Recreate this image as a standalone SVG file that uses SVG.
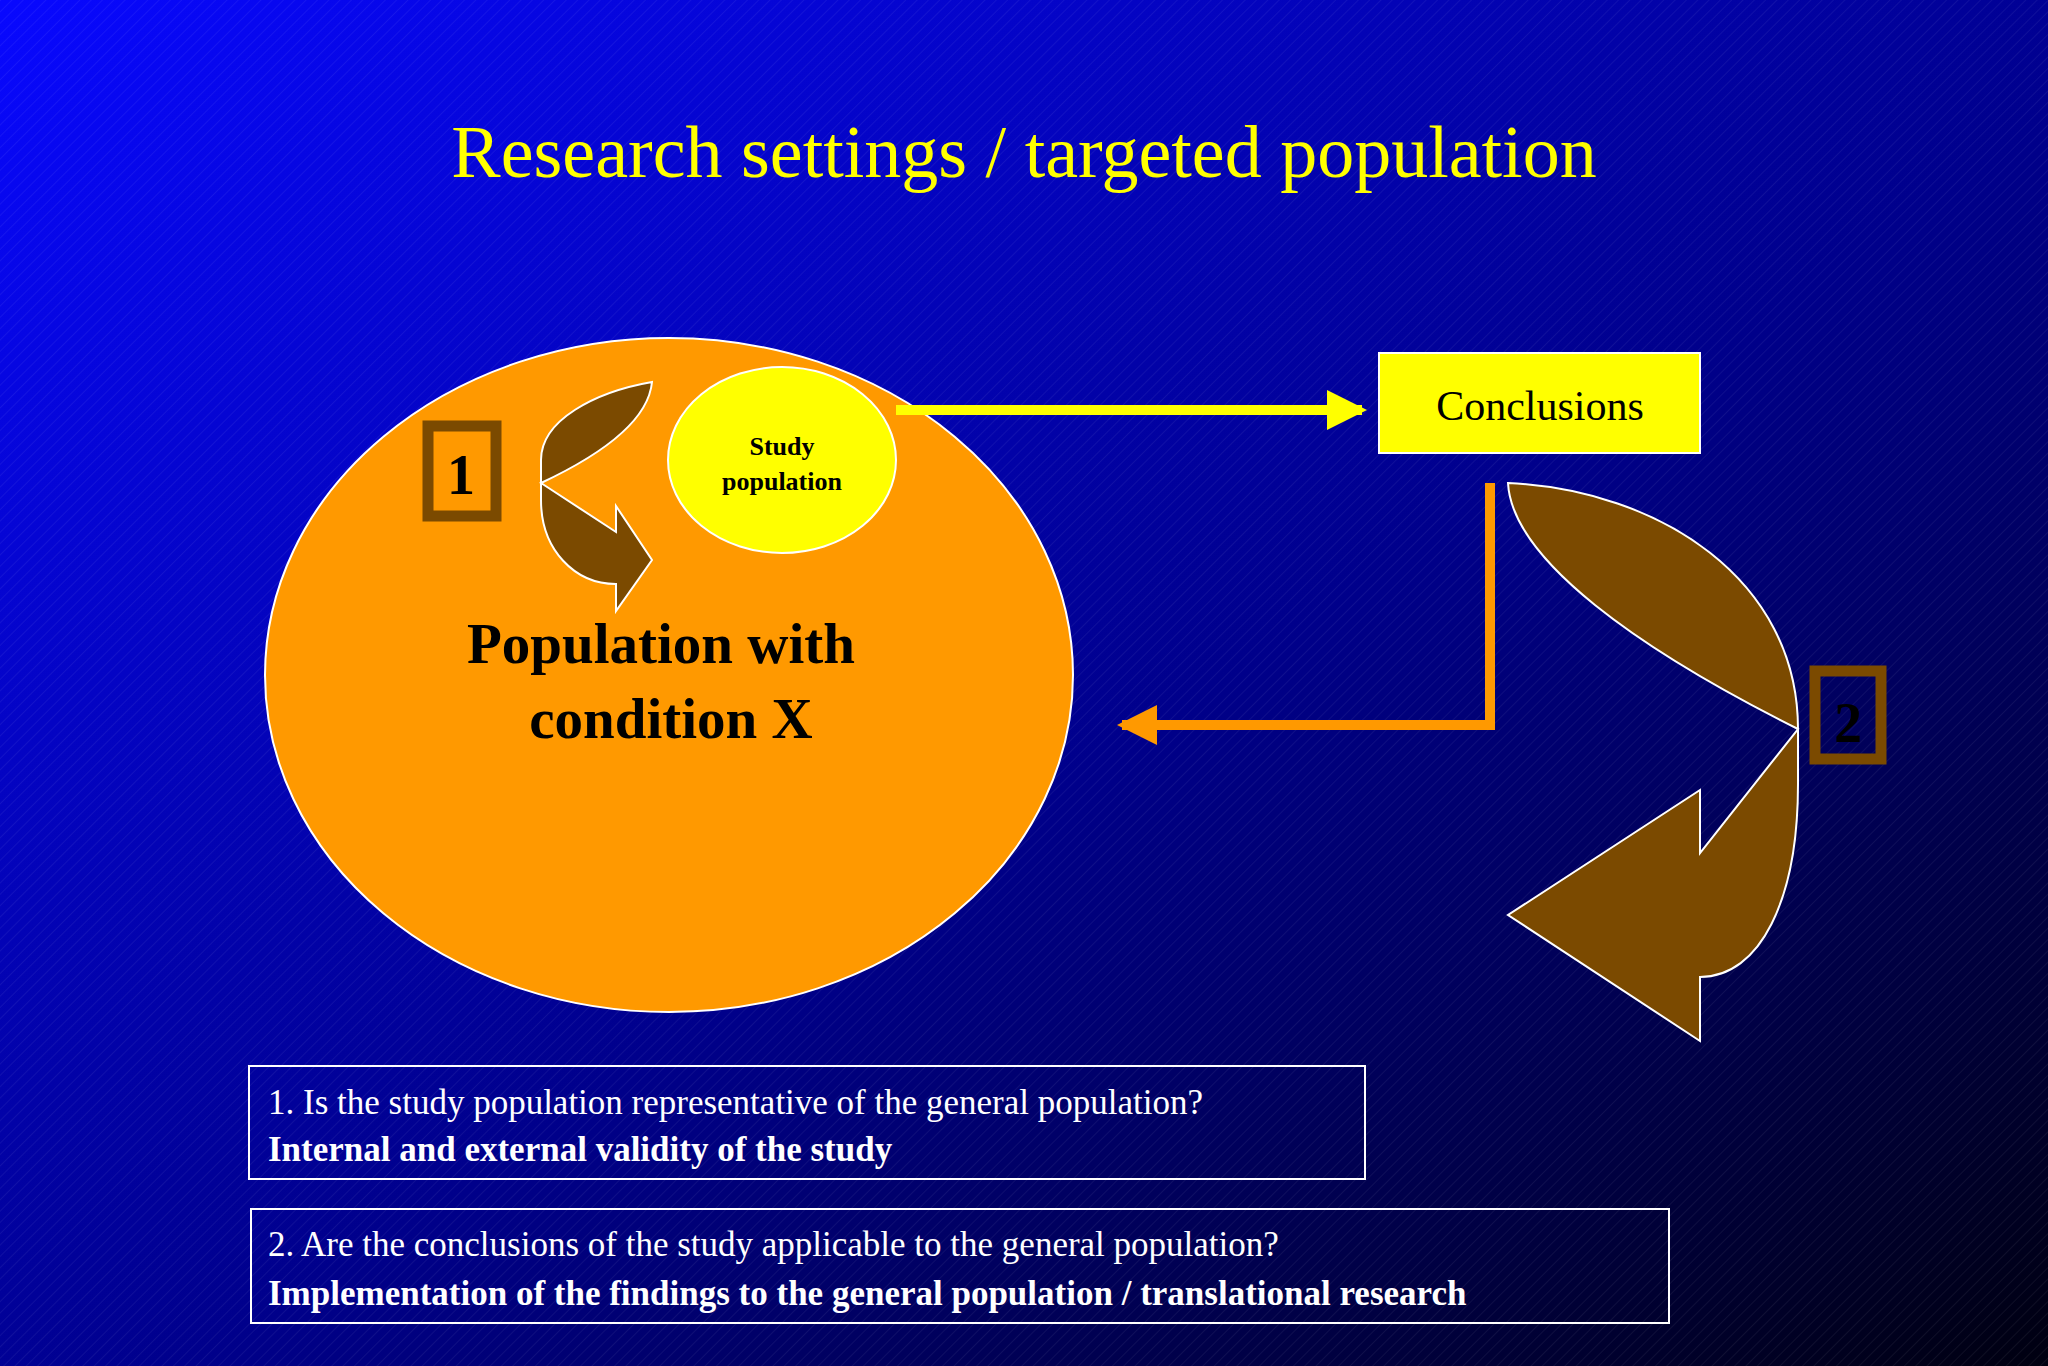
<svg xmlns="http://www.w3.org/2000/svg" width="2048" height="1366" viewBox="0 0 2048 1366">
<defs>
<linearGradient id="bg" x1="0" y1="0" x2="1" y2="1">
<stop offset="0" stop-color="#0808FF"/><stop offset="0.55" stop-color="#00008A"/><stop offset="1" stop-color="#000010"/>
</linearGradient>
<pattern id="hatch" width="8" height="8" patternUnits="userSpaceOnUse" patternTransform="rotate(45)">
<line x1="0" y1="0" x2="0" y2="8" stroke="#ffffff" stroke-opacity="0.06" stroke-width="2"/>
</pattern>
<marker id="ay" markerWidth="4" markerHeight="4" refX="3.5" refY="2" orient="auto" markerUnits="strokeWidth"><path d="M0,0 L4,2 L0,4 Z" fill="#FFFF00"/></marker>
<marker id="ao" markerWidth="4" markerHeight="4" refX="3.5" refY="2" orient="auto" markerUnits="strokeWidth"><path d="M0,0 L4,2 L0,4 Z" fill="#FF9900"/></marker>
<style>
.serif{font-family:"Liberation Serif","Times New Roman",serif}
.brown{fill:#7B4A00;stroke:#fff;stroke-width:2}
.tag{fill:none;stroke:#7B4A00;stroke-width:11}
.qbox{fill:none;stroke:#fff;stroke-width:2}
.q{font-family:"Liberation Serif",serif;font-size:35px;fill:#fff}
</style>
</defs>
<rect width="2048" height="1366" fill="url(#bg)"/>
<rect width="2048" height="1366" fill="url(#hatch)"/>
<text class="serif" x="1024" y="177" font-size="74" fill="#FFFF00" text-anchor="middle">Research settings / targeted population</text>
<g id="population">
<ellipse cx="669" cy="675" rx="404" ry="337" fill="#FF9900" stroke="#fff" stroke-width="2"/>
<text class="serif" x="661" y="663" font-size="57" font-weight="bold" text-anchor="middle">Population with</text>
<text class="serif" x="671" y="738" font-size="57" font-weight="bold" text-anchor="middle">condition X</text>
</g>
<g id="study">
<ellipse cx="782" cy="460" rx="114" ry="93" fill="#FFFF00" stroke="#fff" stroke-width="2"/>
<text class="serif" x="782" y="455" font-size="26" font-weight="bold" text-anchor="middle">Study</text>
<text class="serif" x="782" y="490" font-size="26" font-weight="bold" text-anchor="middle">population</text>
</g>
<g id="conclusions">
<rect x="1379" y="353" width="321" height="100" fill="#FFFF00" stroke="#fff" stroke-width="2"/>
<text class="serif" x="1540" y="420" font-size="42" text-anchor="middle">Conclusions</text>
</g>
<g id="arrow1">
<path class="brown" d="M652,382 C595,392 541,420 541,460 L541,500 C541,550 575,584 616,584 L616,611 L652,560 L616,506 L616,532 L541,483 C590,460 648,425 652,382 Z"/>
<rect class="tag" x="428" y="426" width="68" height="90"/>
<text class="serif" x="461" y="494" font-size="56" font-weight="bold" text-anchor="middle">1</text>
</g>
<g id="arrow2">
<path class="brown" d="M1508,483 C1660,490 1798,580 1798,729 L1798,784 C1798,900 1760,977 1700,977 L1700,1041 L1508,915 L1700,790 L1700,853 L1798,729 C1640,650 1512,560 1508,483 Z"/>
<rect class="tag" x="1815" y="671" width="66" height="88"/>
<text class="serif" x="1848" y="742" font-size="56" font-weight="bold" text-anchor="middle">2</text>
</g>
<g id="connectors">
<line x1="896" y1="410" x2="1362" y2="410" stroke="#FFFF00" stroke-width="10" marker-end="url(#ay)"/>
<polyline points="1490,483 1490,725 1150,725" fill="none" stroke="#FF9900" stroke-width="10"/>
<line x1="1160" y1="725" x2="1122" y2="725" stroke="#FF9900" stroke-width="10" marker-end="url(#ao)"/>
</g>
<g id="question1">
<rect class="qbox" x="249" y="1066" width="1116" height="113"/>
<text class="q" x="268" y="1114">1. Is the study population representative of the general population?</text>
<text class="q" x="268" y="1161" font-weight="bold">Internal and external validity of the study</text>
</g>
<g id="question2">
<rect class="qbox" x="251" y="1209" width="1418" height="114"/>
<text class="q" x="268" y="1256">2. Are the conclusions of the study applicable to the general population?</text>
<text class="q" x="268" y="1305" font-weight="bold">Implementation of the findings to the general population / translational research</text>
</g>
</svg>
